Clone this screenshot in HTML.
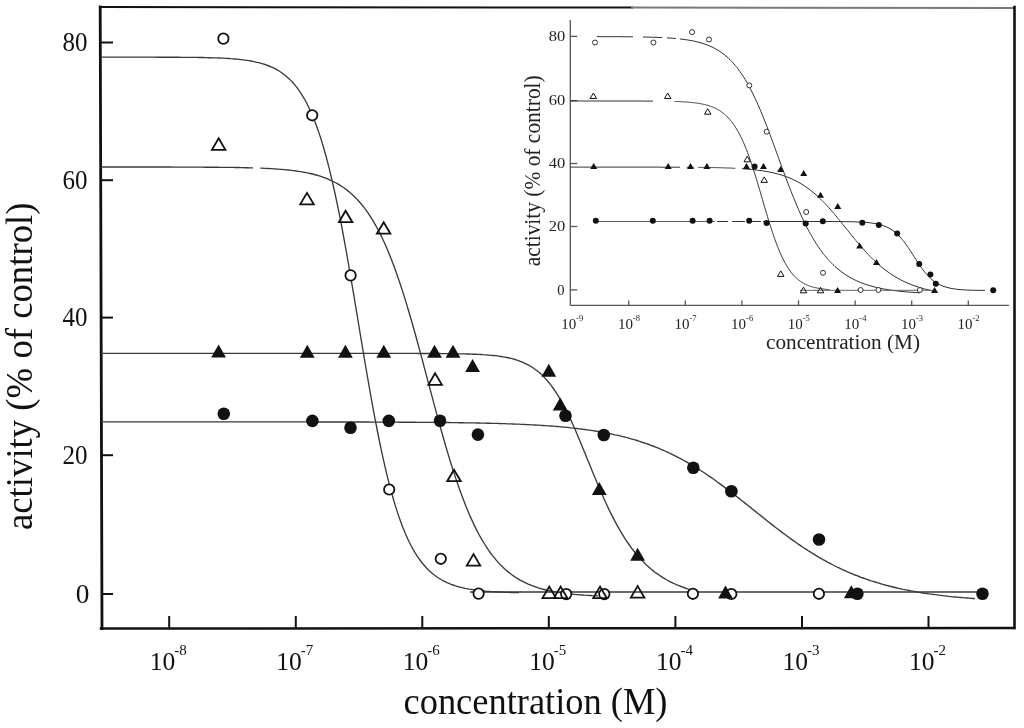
<!DOCTYPE html>
<html><head><meta charset="utf-8"><title>activity vs concentration</title>
<style>html,body{margin:0;padding:0;background:#fff;}body{width:1024px;height:728px;overflow:hidden;}svg{display:block;}</style>
</head><body>
<svg width="1024" height="728" viewBox="0 0 1024 728">
<g fill="none" stroke="#111" stroke-linecap="square">
<line x1="100.7" y1="7" x2="632" y2="7.5" stroke-width="2"/>
<line x1="632" y1="7.5" x2="1014" y2="8" stroke-width="2" stroke="#7a7a7a"/>
<line x1="100.2" y1="7" x2="102" y2="628.5" stroke-width="2.8"/>
<line x1="101" y1="628.6" x2="1014" y2="628" stroke-width="2.5"/>
<line x1="1014.5" y1="7" x2="1014.5" y2="628" stroke-width="2.6"/>
</g>
<g stroke="#111" stroke-width="2">
<line x1="101" y1="42.5" x2="113" y2="42.5"/>
<line x1="101" y1="180.2" x2="113" y2="180.2"/>
<line x1="101" y1="317.6" x2="113" y2="317.6"/>
<line x1="101" y1="455.2" x2="113" y2="455.2"/>
<line x1="101" y1="594" x2="113" y2="594"/>
<line x1="169.2" y1="628" x2="169.2" y2="616"/>
<line x1="295.8" y1="628" x2="295.8" y2="616"/>
<line x1="422.3" y1="628" x2="422.3" y2="616"/>
<line x1="548.8" y1="628" x2="548.8" y2="616"/>
<line x1="675.4" y1="628" x2="675.4" y2="616"/>
<line x1="802.0" y1="628" x2="802.0" y2="616"/>
<line x1="928.5" y1="628" x2="928.5" y2="616"/>
</g>
<g font-family="Liberation Serif, Times New Roman, serif" fill="#111">
<text x="87.6" y="51.0" font-size="27.3" text-anchor="end" textLength="25" lengthAdjust="spacingAndGlyphs">80</text>
<text x="87.6" y="188.7" font-size="27.3" text-anchor="end" textLength="25" lengthAdjust="spacingAndGlyphs">60</text>
<text x="87.6" y="326.1" font-size="27.3" text-anchor="end" textLength="25" lengthAdjust="spacingAndGlyphs">40</text>
<text x="87.6" y="463.7" font-size="27.3" text-anchor="end" textLength="25" lengthAdjust="spacingAndGlyphs">20</text>
<text x="89.3" y="602.5" font-size="27.3" text-anchor="end">0</text>
<text x="149.7" y="669.7" font-size="25.5">10<tspan font-size="15" dy="-15" dx="-1">-8</tspan></text>
<text x="276.2" y="669.7" font-size="25.5">10<tspan font-size="15" dy="-15" dx="-1">-7</tspan></text>
<text x="402.8" y="669.7" font-size="25.5">10<tspan font-size="15" dy="-15" dx="-1">-6</tspan></text>
<text x="529.3" y="669.7" font-size="25.5">10<tspan font-size="15" dy="-15" dx="-1">-5</tspan></text>
<text x="655.9" y="669.7" font-size="25.5">10<tspan font-size="15" dy="-15" dx="-1">-4</tspan></text>
<text x="782.5" y="669.7" font-size="25.5">10<tspan font-size="15" dy="-15" dx="-1">-3</tspan></text>
<text x="909.0" y="669.7" font-size="25.5">10<tspan font-size="15" dy="-15" dx="-1">-2</tspan></text>
<text x="403.5" y="714" font-size="37.5" textLength="264" lengthAdjust="spacingAndGlyphs">concentration (M)</text>
<text transform="translate(32,530) rotate(-90)" font-size="38" textLength="327.5" lengthAdjust="spacingAndGlyphs">activity (% of control)</text>
</g>
<g fill="none" stroke="#3a3a3a" stroke-width="1.35">
<path d="M101.0,57.1 L103.0,57.1 L105.0,57.1 L107.0,57.1 L109.0,57.1 L111.0,57.1 L113.0,57.1 L115.0,57.1 L117.0,57.1 L119.0,57.1 L121.0,57.1 L123.0,57.1 L125.0,57.1 L127.0,57.1 L129.0,57.1 L131.0,57.1 L133.0,57.1 L135.0,57.1 L137.0,57.1 L139.0,57.1 L141.0,57.1 L143.0,57.1 L145.0,57.1 L147.0,57.1 L149.0,57.1 L151.0,57.1 L153.0,57.1 L155.0,57.1 L157.0,57.2 L159.0,57.2 L161.0,57.2 L163.0,57.2 L165.0,57.2 L167.0,57.2 L169.0,57.2 L171.0,57.2 L173.0,57.2 L175.0,57.2 L177.0,57.2 L179.0,57.2 L181.0,57.3 L183.0,57.3 L185.0,57.3 L187.0,57.3 L189.0,57.3 L191.0,57.4 L193.0,57.4 L195.0,57.4 L197.0,57.4 L199.0,57.5 L201.0,57.5 L203.0,57.5 L205.0,57.6 L207.0,57.6 L209.0,57.7 L211.0,57.7 L213.0,57.8 L215.0,57.9 L217.0,57.9 L219.0,58.0 L221.0,58.1 L223.0,58.2 L225.0,58.3 L227.0,58.4 L229.0,58.5 L231.0,58.7 L233.0,58.8 L235.0,59.0 L237.0,59.2 L239.0,59.4 L241.0,59.6 L243.0,59.8 L245.0,60.1 L247.0,60.4 L249.0,60.7 L251.0,61.0 L253.0,61.4 L255.0,61.8 L257.0,62.3 L259.0,62.7 L261.0,63.3 L263.0,63.9 L265.0,64.5 L267.0,65.2 L269.0,66.0 L271.0,66.8 L273.0,67.7 L275.0,68.7 L277.0,69.8 L279.0,71.0 L281.0,72.3 L283.0,73.7 L285.0,75.2 L287.0,76.9 L289.0,78.7 L291.0,80.6 L293.0,82.8 L295.0,85.1 L297.0,87.6 L299.0,90.4 L301.0,93.3 L303.0,96.6 L305.0,100.0 L307.0,103.8 L309.0,107.8 L311.0,112.1 L313.0,116.8 L315.0,121.8 L317.0,127.2 L319.0,132.9 L321.0,139.1 L323.0,145.6 L325.0,152.5 L327.0,159.9 L329.0,167.6 L331.0,175.8 L333.0,184.4 L335.0,193.5 L337.0,202.9 L339.0,212.7 L341.0,222.9 L343.0,233.5 L345.0,244.4 L347.0,255.5 L349.0,267.0 L351.0,278.6 L353.0,290.4 L355.0,302.4 L357.0,314.4 L359.0,326.5 L361.0,338.6 L363.0,350.6 L365.0,362.5 L367.0,374.2 L369.0,385.7 L371.0,397.0 L373.0,408.0 L375.0,418.7 L377.0,429.0 L379.0,439.0 L381.0,448.6 L383.0,457.9 L385.0,466.7 L387.0,475.1 L389.0,483.1 L391.0,490.6 L393.0,497.8 L395.0,504.6 L397.0,510.9 L399.0,516.9 L401.0,522.5 L403.0,527.8 L405.0,532.7 L407.0,537.2 L409.0,541.5 L411.0,545.5 L413.0,549.2 L415.0,552.6 L417.0,555.8 L419.0,558.7 L421.0,561.5 L423.0,564.0 L425.0,566.3 L427.0,568.5 L429.0,570.5 L431.0,572.3 L433.0,574.0 L435.0,575.5 L437.0,577.0 L439.0,578.3 L441.0,579.5 L443.0,580.6 L445.0,581.6 L447.0,582.6 L449.0,583.5 L451.0,584.3 L453.0,585.0 L455.0,585.7 L457.0,586.3 L459.0,586.8 L461.0,587.4 L463.0,587.8 L465.0,588.3 L467.0,588.7 L469.0,589.1 L471.0,589.4 L473.0,589.7 L475.0,590.0 L477.0,590.2 L479.0,590.5 L481.0,590.7 L483.0,590.9 L485.0,591.1 L487.0,591.3 L489.0,591.4 L491.0,591.6 L493.0,591.7 L495.0,591.8 L497.0,591.9 L499.0,592.0 L501.0,592.1 L503.0,592.2 L505.0,592.3 L507.0,592.3 L509.0,592.4 L511.0,592.5 L513.0,592.5 L515.0,592.6 L517.0,592.6 L519.0,592.7"/>
<path d="M101.0,167.0 L103.0,167.0 L105.0,167.0 L107.0,167.0 L109.0,167.0 L111.0,167.0 L113.0,167.0 L115.0,167.0 L117.0,167.0 L119.0,167.0 L121.0,167.0 L123.0,167.0 L125.0,167.0 L127.0,167.0 L129.0,167.0 L131.0,167.0 L133.0,167.0 L135.0,167.0 L137.0,167.0 L139.0,167.0 L141.0,167.0 L143.0,167.0 L145.0,167.0 L147.0,167.0 L149.0,167.0 L151.0,167.0 L153.0,167.0 L155.0,167.0 L157.0,167.0 L159.0,167.0 L161.0,167.0 L163.0,167.0 L165.0,167.0 L167.0,167.0 L169.0,167.0 L171.0,167.0 L173.0,167.1 L175.0,167.1 L177.0,167.1 L179.0,167.1 L181.0,167.1 L183.0,167.1 L185.0,167.1 L187.0,167.1 L189.0,167.1 L191.0,167.1 L193.0,167.1 L195.0,167.1 L197.0,167.1 L199.0,167.1 L201.0,167.1 L203.0,167.1 L205.0,167.2 L207.0,167.2 L209.0,167.2 L211.0,167.2 L213.0,167.2 L215.0,167.2 L217.0,167.2 L219.0,167.3 L221.0,167.3 L223.0,167.3 L225.0,167.3 L227.0,167.3 L229.0,167.4 L231.0,167.4 L233.0,167.4 L235.0,167.5 L237.0,167.5 L239.0,167.5 L241.0,167.6 L243.0,167.6 L245.0,167.7 L247.0,167.7 L249.0,167.8 L251.0,167.8 L253.0,167.9"/>
<path d="M260.2,168.1 L262.2,168.2 L264.2,168.3 L266.2,168.4 L268.2,168.5 L270.2,168.6 L272.2,168.7 L274.2,168.8 L276.2,169.0 L278.2,169.1 L280.2,169.3 L282.2,169.4 L284.2,169.6 L286.2,169.8 L288.2,170.0 L290.2,170.2 L292.2,170.5 L294.2,170.7 L296.2,171.0 L298.2,171.3 L300.2,171.6 L302.2,171.9 L304.2,172.3 L306.2,172.7 L308.2,173.1 L310.2,173.5 L312.2,174.0 L314.2,174.5 L316.2,175.0 L318.2,175.6 L320.2,176.2 L322.2,176.9 L324.2,177.6 L326.2,178.4 L328.2,179.2 L330.2,180.1 L332.2,181.0 L334.2,182.0 L336.2,183.0 L338.2,184.2 L340.2,185.4 L342.2,186.7 L344.2,188.0 L346.2,189.5 L348.2,191.1 L350.2,192.7 L352.2,194.5 L354.2,196.4 L356.2,198.4 L358.2,200.5 L360.2,202.8 L362.2,205.2 L364.2,207.7 L366.2,210.4 L368.2,213.2 L370.2,216.3 L372.2,219.4 L374.2,222.8 L376.2,226.3 L378.2,230.0 L380.2,233.9 L382.2,238.0 L384.2,242.3 L386.2,246.8 L388.2,251.5 L390.2,256.4 L392.2,261.5 L394.2,266.8 L396.2,272.4 L398.2,278.1 L400.2,284.0 L402.2,290.1 L404.2,296.4 L406.2,302.9 L408.2,309.5 L410.2,316.3 L412.2,323.2 L414.2,330.3 L416.2,337.5 L418.2,344.8 L420.2,352.1 L422.2,359.6 L424.2,367.1 L426.2,374.6 L428.2,382.2 L430.2,389.7 L432.2,397.2 L434.2,404.7 L436.2,412.1 L438.2,419.4 L440.2,426.7 L442.2,433.8 L444.2,440.8 L446.2,447.7 L448.2,454.4 L450.2,461.0 L452.2,467.4 L454.2,473.6 L456.2,479.6 L458.2,485.5 L460.2,491.1 L462.2,496.6 L464.2,501.8 L466.2,506.9 L468.2,511.7 L470.2,516.4 L472.2,520.8 L474.2,525.1 L476.2,529.1 L478.2,533.0 L480.2,536.7 L482.2,540.2 L484.2,543.5 L486.2,546.7 L488.2,549.7 L490.2,552.5 L492.2,555.2 L494.2,557.7 L496.2,560.1 L498.2,562.4 L500.2,564.5 L502.2,566.5 L504.2,568.4 L506.2,570.2 L508.2,571.9 L510.2,573.5 L512.2,575.0 L514.2,576.4 L516.2,577.7 L518.2,578.9 L520.2,580.1 L522.2,581.2 L524.2,582.2 L526.2,583.2 L528.2,584.1 L530.2,584.9 L532.2,585.7 L534.2,586.4 L536.2,587.1 L538.2,587.8 L540.2,588.4 L542.2,589.0 L544.2,589.5 L546.2,590.0 L548.2,590.5 L550.2,590.9 L552.2,591.3 L554.2,591.7 L556.2,592.0 L558.2,592.4 L560.2,592.7 L562.2,593.0 L564.2,593.3 L566.2,593.5 L568.2,593.7 L570.2,594.0 L572.2,594.2 L574.2,594.4 L576.2,594.6 L578.2,594.7 L580.2,594.9 L582.2,595.0 L584.2,595.2 L586.2,595.3 L588.2,595.4 L590.2,595.5 L592.2,595.7 L594.2,595.8 L596.2,595.8 L598.2,595.9"/>
<path d="M101.0,353.4 L103.0,353.4 L105.0,353.4 L107.0,353.4 L109.0,353.4 L111.0,353.4 L113.0,353.4 L115.0,353.4 L117.0,353.4 L119.0,353.4 L121.0,353.4 L123.0,353.4 L125.0,353.4 L127.0,353.4 L129.0,353.4 L131.0,353.4 L133.0,353.4 L135.0,353.4 L137.0,353.4 L139.0,353.4 L141.0,353.4 L143.0,353.4 L145.0,353.4 L147.0,353.4 L149.0,353.4 L151.0,353.4 L153.0,353.4 L155.0,353.4 L157.0,353.4 L159.0,353.4 L161.0,353.4 L163.0,353.4 L165.0,353.4 L167.0,353.4 L169.0,353.4 L171.0,353.4 L173.0,353.4 L175.0,353.4 L177.0,353.4 L179.0,353.4 L181.0,353.4 L183.0,353.4 L185.0,353.4 L187.0,353.4 L189.0,353.4 L191.0,353.4 L193.0,353.4 L195.0,353.4 L197.0,353.4 L199.0,353.4 L201.0,353.4 L203.0,353.4 L205.0,353.4 L207.0,353.4 L209.0,353.4 L211.0,353.4 L213.0,353.4 L215.0,353.4 L217.0,353.4 L219.0,353.4 L221.0,353.4 L223.0,353.4 L225.0,353.4 L227.0,353.4 L229.0,353.4 L231.0,353.4 L233.0,353.4 L235.0,353.4 L237.0,353.4 L239.0,353.4 L241.0,353.4 L243.0,353.4 L245.0,353.4 L247.0,353.4 L249.0,353.4 L251.0,353.4 L253.0,353.4 L255.0,353.4 L257.0,353.4 L259.0,353.4 L261.0,353.4 L263.0,353.4 L265.0,353.4 L267.0,353.4 L269.0,353.4 L271.0,353.4 L273.0,353.4 L275.0,353.4 L277.0,353.4 L279.0,353.4 L281.0,353.4 L283.0,353.4 L285.0,353.4 L287.0,353.4 L289.0,353.4 L291.0,353.4 L293.0,353.4 L295.0,353.4 L297.0,353.4 L299.0,353.4 L301.0,353.4 L303.0,353.4 L305.0,353.4 L307.0,353.4 L309.0,353.4 L311.0,353.4 L313.0,353.4 L315.0,353.4 L317.0,353.4 L319.0,353.4 L321.0,353.4 L323.0,353.4 L325.0,353.4 L327.0,353.4 L329.0,353.4 L331.0,353.4 L333.0,353.4 L335.0,353.4 L337.0,353.4 L339.0,353.4 L341.0,353.4 L343.0,353.4 L345.0,353.4 L347.0,353.4 L349.0,353.4 L351.0,353.4 L353.0,353.4 L355.0,353.4 L357.0,353.4 L359.0,353.4 L361.0,353.4 L363.0,353.4 L365.0,353.4 L367.0,353.4 L369.0,353.4 L371.0,353.4 L373.0,353.4 L375.0,353.4 L377.0,353.4 L379.0,353.4 L381.0,353.4 L383.0,353.4 L385.0,353.4 L387.0,353.4 L389.0,353.4 L391.0,353.4 L393.0,353.4 L395.0,353.4 L397.0,353.4 L399.0,353.4 L401.0,353.4 L403.0,353.4 L405.0,353.4 L407.0,353.4 L409.0,353.4 L411.0,353.4 L413.0,353.4 L415.0,353.4 L417.0,353.4 L419.0,353.5 L421.0,353.5 L423.0,353.5 L425.0,353.5 L427.0,353.5 L429.0,353.5 L431.0,353.5 L433.0,353.5 L435.0,353.5 L437.0,353.5 L439.0,353.5 L441.0,353.6 L443.0,353.6 L445.0,353.6 L447.0,353.6 L449.0,353.6 L451.0,353.7 L453.0,353.7 L455.0,353.7 L457.0,353.7 L459.0,353.8 L461.0,353.8 L463.0,353.9 L465.0,353.9 L467.0,354.0 L469.0,354.0 L471.0,354.1 L473.0,354.2 L475.0,354.2 L477.0,354.3 L479.0,354.4 L481.0,354.5 L483.0,354.7 L485.0,354.8 L487.0,354.9 L489.0,355.1 L491.0,355.3 L493.0,355.5 L495.0,355.7 L497.0,355.9 L499.0,356.2 L501.0,356.5 L503.0,356.8 L505.0,357.1 L507.0,357.5 L509.0,358.0 L511.0,358.4 L513.0,358.9 L515.0,359.5 L517.0,360.1 L519.0,360.8 L521.0,361.6 L523.0,362.4 L525.0,363.3 L527.0,364.3 L529.0,365.3 L531.0,366.5 L533.0,367.8 L535.0,369.2 L537.0,370.7 L539.0,372.3 L541.0,374.1 L543.0,376.0 L545.0,378.1 L547.0,380.3 L549.0,382.7 L551.0,385.2 L553.0,388.0 L555.0,390.9 L557.0,393.9 L559.0,397.2 L561.0,400.7 L563.0,404.3 L565.0,408.1 L567.0,412.0 L569.0,416.1 L571.0,420.4 L573.0,424.8 L575.0,429.3 L577.0,434.0 L579.0,438.7 L581.0,443.5 L583.0,448.4 L585.0,453.3 L587.0,458.2 L589.0,463.1 L591.0,468.1 L593.0,473.0 L595.0,477.8 L597.0,482.6 L599.0,487.4 L601.0,492.0 L603.0,496.6 L605.0,501.0 L607.0,505.3 L609.0,509.6 L611.0,513.6 L613.0,517.6 L615.0,521.4 L617.0,525.1 L619.0,528.7 L621.0,532.1 L623.0,535.4 L625.0,538.6 L627.0,541.6 L629.0,544.5 L631.0,547.3 L633.0,550.0 L635.0,552.5 L637.0,554.9 L639.0,557.2 L641.0,559.4 L643.0,561.5 L645.0,563.5 L647.0,565.4 L649.0,567.2 L651.0,569.0 L653.0,570.6 L655.0,572.2 L657.0,573.6 L659.0,575.0 L661.0,576.4 L663.0,577.6 L665.0,578.8 L667.0,580.0 L669.0,581.1 L671.0,582.1 L673.0,583.1 L675.0,584.0 L677.0,584.9 L679.0,585.7 L681.0,586.5 L683.0,587.2 L685.0,588.0 L687.0,588.6 L689.0,589.3 L691.0,589.9 L693.0,590.4 L695.0,591.0 L697.0,591.5 L699.0,592.0"/>
<path d="M101.0,421.9 L103.0,421.9 L105.0,421.9 L107.0,421.9 L109.0,421.9 L111.0,421.9 L113.0,421.9 L115.0,421.9 L117.0,421.9 L119.0,421.9 L121.0,421.9 L123.0,421.9 L125.0,421.9 L127.0,421.9 L129.0,421.9 L131.0,421.9 L133.0,421.9 L135.0,421.9 L137.0,421.9 L139.0,421.9 L141.0,421.9 L143.0,421.9 L145.0,421.9 L147.0,421.9 L149.0,421.9 L151.0,421.9 L153.0,421.9 L155.0,421.9 L157.0,421.9 L159.0,421.9 L161.0,421.9 L163.0,421.9 L165.0,421.9 L167.0,421.9 L169.0,421.9 L171.0,421.9 L173.0,421.9 L175.0,421.9 L177.0,421.9 L179.0,421.9 L181.0,421.9 L183.0,421.9 L185.0,421.9 L187.0,421.9 L189.0,421.9 L191.0,421.9 L193.0,421.9 L195.0,421.9 L197.0,421.9 L199.0,421.9 L201.0,421.9 L203.0,421.9 L205.0,421.9 L207.0,421.9 L209.0,421.9 L211.0,421.9 L213.0,421.9 L215.0,421.9 L217.0,421.9 L219.0,421.9 L221.0,421.9 L223.0,421.9 L225.0,421.9 L227.0,421.9 L229.0,421.9 L231.0,421.9 L233.0,421.9 L235.0,421.9 L237.0,421.9 L239.0,421.9 L241.0,421.9 L243.0,421.9 L245.0,421.9 L247.0,421.9 L249.0,421.9 L251.0,421.9 L253.0,421.9 L255.0,421.9 L257.0,421.9 L259.0,421.9 L261.0,421.9 L263.0,421.9 L265.0,421.9 L267.0,421.9 L269.0,421.9 L271.0,421.9 L273.0,421.9 L275.0,421.9 L277.0,421.9 L279.0,421.9 L281.0,421.9 L283.0,421.9 L285.0,421.9 L287.0,421.9 L289.0,421.9 L291.0,421.9 L293.0,421.9 L295.0,421.9 L297.0,421.9 L299.0,421.9 L301.0,421.9 L303.0,421.9 L305.0,421.9 L307.0,421.9 L309.0,421.9 L311.0,421.9 L313.0,422.0 L315.0,422.0 L317.0,422.0 L319.0,422.0 L321.0,422.0 L323.0,422.0 L325.0,422.0 L327.0,422.0 L329.0,422.0 L331.0,422.0 L333.0,422.0 L335.0,422.0 L337.0,422.0 L339.0,422.0 L341.0,422.0 L343.0,422.0 L345.0,422.0 L347.0,422.0 L349.0,422.0 L351.0,422.0 L353.0,422.0 L355.0,422.0 L357.0,422.0 L359.0,422.0 L361.0,422.0 L363.0,422.0 L365.0,422.0 L367.0,422.0 L369.0,422.0 L371.0,422.1 L373.0,422.1 L375.0,422.1 L377.0,422.1 L379.0,422.1 L381.0,422.1 L383.0,422.1 L385.0,422.1 L387.0,422.1 L389.0,422.1 L391.0,422.1 L393.0,422.1 L395.0,422.1 L397.0,422.1 L399.0,422.2 L401.0,422.2 L403.0,422.2 L405.0,422.2 L407.0,422.2 L409.0,422.2 L411.0,422.2 L413.0,422.2 L415.0,422.2 L417.0,422.3 L419.0,422.3 L421.0,422.3 L423.0,422.3 L425.0,422.3 L427.0,422.3 L429.0,422.3 L431.0,422.4 L433.0,422.4 L435.0,422.4 L437.0,422.4 L439.0,422.4 L441.0,422.5 L443.0,422.5 L445.0,422.5 L447.0,422.5 L449.0,422.5 L451.0,422.6 L453.0,422.6 L455.0,422.6 L457.0,422.6 L459.0,422.7 L461.0,422.7 L463.0,422.7 L465.0,422.8 L467.0,422.8 L469.0,422.8 L471.0,422.9 L473.0,422.9 L475.0,422.9 L477.0,423.0 L479.0,423.0 L481.0,423.1 L483.0,423.1 L485.0,423.1 L487.0,423.2 L489.0,423.2 L491.0,423.3 L493.0,423.3 L495.0,423.4 L497.0,423.4 L499.0,423.5 L501.0,423.6 L503.0,423.6 L505.0,423.7 L507.0,423.8 L509.0,423.8 L511.0,423.9 L513.0,424.0 L515.0,424.1 L517.0,424.1 L519.0,424.2 L521.0,424.3 L523.0,424.4 L525.0,424.5 L527.0,424.6 L529.0,424.7 L531.0,424.8 L533.0,424.9 L535.0,425.0 L537.0,425.1 L539.0,425.2 L541.0,425.4 L543.0,425.5 L545.0,425.6 L547.0,425.8 L549.0,425.9 L551.0,426.0 L553.0,426.2 L555.0,426.4 L557.0,426.5 L559.0,426.7 L561.0,426.9 L563.0,427.1 L565.0,427.2 L567.0,427.4 L569.0,427.6 L571.0,427.8 L573.0,428.1 L575.0,428.3 L577.0,428.5 L579.0,428.8 L581.0,429.0 L583.0,429.3 L585.0,429.5 L587.0,429.8 L589.0,430.1 L591.0,430.4 L593.0,430.7 L595.0,431.0 L597.0,431.3 L599.0,431.7 L601.0,432.0 L603.0,432.4 L605.0,432.7 L607.0,433.1 L609.0,433.5 L611.0,433.9 L613.0,434.3 L615.0,434.8 L617.0,435.2 L619.0,435.7 L621.0,436.2 L623.0,436.6 L625.0,437.1 L627.0,437.7 L629.0,438.2 L631.0,438.8 L633.0,439.3 L635.0,439.9 L637.0,440.5 L639.0,441.2 L641.0,441.8 L643.0,442.5 L645.0,443.1 L647.0,443.8 L649.0,444.5 L651.0,445.3 L653.0,446.0 L655.0,446.8 L657.0,447.6 L659.0,448.4 L661.0,449.3 L663.0,450.1 L665.0,451.0 L667.0,451.9 L669.0,452.9 L671.0,453.8 L673.0,454.8 L675.0,455.8 L677.0,456.8 L679.0,457.8 L681.0,458.9 L683.0,460.0 L685.0,461.1 L687.0,462.2 L689.0,463.4 L691.0,464.5 L693.0,465.7 L695.0,466.9 L697.0,468.2 L699.0,469.4 L701.0,470.7 L703.0,472.0 L705.0,473.3 L707.0,474.7 L709.0,476.1 L711.0,477.4 L713.0,478.8 L715.0,480.2 L717.0,481.7 L719.0,483.1 L721.0,484.6 L723.0,486.1 L725.0,487.6 L727.0,489.1 L729.0,490.6 L731.0,492.1 L733.0,493.7 L735.0,495.2 L737.0,496.8 L739.0,498.4 L741.0,500.0 L743.0,501.5 L745.0,503.1 L747.0,504.7 L749.0,506.3 L751.0,507.9 L753.0,509.5 L755.0,511.1 L757.0,512.7 L759.0,514.3 L761.0,515.9 L763.0,517.5 L765.0,519.1 L767.0,520.7 L769.0,522.3 L771.0,523.9 L773.0,525.4 L775.0,527.0 L777.0,528.5 L779.0,530.0 L781.0,531.6 L783.0,533.1 L785.0,534.5 L787.0,536.0 L789.0,537.5 L791.0,538.9 L793.0,540.4 L795.0,541.8 L797.0,543.2 L799.0,544.6 L801.0,545.9 L803.0,547.3 L805.0,548.6 L807.0,549.9 L809.0,551.2 L811.0,552.4 L813.0,553.7 L815.0,554.9 L817.0,556.1 L819.0,557.3 L821.0,558.4 L823.0,559.6 L825.0,560.7 L827.0,561.8 L829.0,562.9 L831.0,563.9 L833.0,565.0 L835.0,566.0 L837.0,567.0 L839.0,567.9 L841.0,568.9 L843.0,569.8 L845.0,570.7 L847.0,571.6 L849.0,572.5 L851.0,573.3 L853.0,574.1 L855.0,575.0 L857.0,575.7 L859.0,576.5 L861.0,577.3 L863.0,578.0 L865.0,578.7 L867.0,579.4 L869.0,580.1 L871.0,580.8 L873.0,581.4 L875.0,582.0 L877.0,582.6 L879.0,583.2 L881.0,583.8 L883.0,584.4 L885.0,584.9 L887.0,585.5 L889.0,586.0 L891.0,586.5 L893.0,587.0 L895.0,587.5 L897.0,588.0 L899.0,588.4 L901.0,588.8 L903.0,589.3 L905.0,589.7 L907.0,590.1 L909.0,590.5 L911.0,590.9 L913.0,591.2 L915.0,591.6 L917.0,592.0 L919.0,592.3 L921.0,592.6 L923.0,593.0 L925.0,593.3 L927.0,593.6 L929.0,593.9 L931.0,594.1 L933.0,594.4 L935.0,594.7 L937.0,594.9 L939.0,595.2 L941.0,595.4 L943.0,595.7 L945.0,595.9 L947.0,596.1 L949.0,596.4 L951.0,596.6 L953.0,596.8 L955.0,597.0 L957.0,597.2 L959.0,597.4 L961.0,597.5 L963.0,597.7 L965.0,597.9 L967.0,598.0 L969.0,598.2 L971.0,598.4 L973.0,598.5 L975.0,598.7"/>
<line x1="470" y1="592" x2="982" y2="592"/>
</g>
<g>
<circle cx="223.4" cy="38.6" r="5.2" fill="#fff" stroke="#111" stroke-width="1.8"/>
<circle cx="312.2" cy="115.3" r="5.2" fill="#fff" stroke="#111" stroke-width="1.8"/>
<circle cx="350.6" cy="275.4" r="5.2" fill="#fff" stroke="#111" stroke-width="1.8"/>
<circle cx="389.2" cy="489.5" r="5.2" fill="#fff" stroke="#111" stroke-width="1.8"/>
<circle cx="440.8" cy="558.8" r="5.2" fill="#fff" stroke="#111" stroke-width="1.8"/>
<circle cx="478.6" cy="593.6" r="5.2" fill="#fff" stroke="#111" stroke-width="1.8"/>
<circle cx="566.2" cy="594.1" r="5.2" fill="#fff" stroke="#111" stroke-width="1.8"/>
<circle cx="604.3" cy="594.1" r="5.2" fill="#fff" stroke="#111" stroke-width="1.8"/>
<circle cx="692.9" cy="593.8" r="5.2" fill="#fff" stroke="#111" stroke-width="1.8"/>
<circle cx="731.3" cy="594" r="5.2" fill="#fff" stroke="#111" stroke-width="1.8"/>
<circle cx="818.9" cy="593.8" r="5.2" fill="#fff" stroke="#111" stroke-width="1.8"/>
<polygon points="218.7,138.2 211.9,149.8 225.4,149.8" fill="none" stroke="#111" stroke-width="1.8" stroke-linejoin="miter"/>
<polygon points="307.0,192.9 300.2,204.4 313.8,204.4" fill="none" stroke="#111" stroke-width="1.8" stroke-linejoin="miter"/>
<polygon points="345.6,210.8 338.9,222.2 352.4,222.2" fill="none" stroke="#111" stroke-width="1.8" stroke-linejoin="miter"/>
<polygon points="383.7,222.2 376.9,233.7 390.4,233.7" fill="none" stroke="#111" stroke-width="1.8" stroke-linejoin="miter"/>
<polygon points="435.1,373.2 428.4,384.8 441.9,384.8" fill="none" stroke="#111" stroke-width="1.8" stroke-linejoin="miter"/>
<polygon points="454.0,469.8 447.2,481.2 460.8,481.2" fill="none" stroke="#111" stroke-width="1.8" stroke-linejoin="miter"/>
<polygon points="473.5,554.1 466.8,565.6 480.2,565.6" fill="none" stroke="#111" stroke-width="1.8" stroke-linejoin="miter"/>
<polygon points="549.2,586.6 542.5,598.1 556.0,598.1" fill="none" stroke="#111" stroke-width="1.8" stroke-linejoin="miter"/>
<polygon points="560.6,586.6 553.9,598.1 567.4,598.1" fill="none" stroke="#111" stroke-width="1.8" stroke-linejoin="miter"/>
<polygon points="600.0,586.6 593.2,598.1 606.8,598.1" fill="none" stroke="#111" stroke-width="1.8" stroke-linejoin="miter"/>
<polygon points="637.6,586.1 630.9,597.6 644.4,597.6" fill="none" stroke="#111" stroke-width="1.8" stroke-linejoin="miter"/>
<polygon points="218.6,344.5 211.2,357.5 226.0,357.5" fill="#111"/>
<polygon points="307.3,344.8 299.9,357.8 314.7,357.8" fill="#111"/>
<polygon points="345.4,344.8 338.0,357.8 352.8,357.8" fill="#111"/>
<polygon points="383.8,344.8 376.4,357.8 391.2,357.8" fill="#111"/>
<polygon points="434.5,344.8 427.1,357.8 441.9,357.8" fill="#111"/>
<polygon points="453.0,344.8 445.6,357.8 460.4,357.8" fill="#111"/>
<polygon points="472.6,359.1 465.2,372.1 480.0,372.1" fill="#111"/>
<polygon points="548.8,363.7 541.4,376.7 556.2,376.7" fill="#111"/>
<polygon points="560.2,397.4 552.8,410.4 567.6,410.4" fill="#111"/>
<polygon points="599.3,482.0 591.9,495.0 606.7,495.0" fill="#111"/>
<polygon points="637.6,547.7 630.2,560.7 645.0,560.7" fill="#111"/>
<polygon points="725.5,585.4 718.1,598.4 732.9,598.4" fill="#111"/>
<polygon points="851.3,585.3 843.9,598.3 858.7,598.3" fill="#111"/>
<circle cx="223.8" cy="413.8" r="6.3" fill="#111"/>
<circle cx="312.4" cy="420.9" r="6.3" fill="#111"/>
<circle cx="350.5" cy="427.8" r="6.3" fill="#111"/>
<circle cx="388.8" cy="420.9" r="6.3" fill="#111"/>
<circle cx="440" cy="420.8" r="6.3" fill="#111"/>
<circle cx="477.9" cy="434.6" r="6.3" fill="#111"/>
<circle cx="565.5" cy="415.8" r="6.3" fill="#111"/>
<circle cx="603.8" cy="435" r="6.3" fill="#111"/>
<circle cx="693.3" cy="467.8" r="6.3" fill="#111"/>
<circle cx="731.4" cy="491.2" r="6.3" fill="#111"/>
<circle cx="819" cy="539.5" r="6.3" fill="#111"/>
<circle cx="857.4" cy="593.8" r="6.3" fill="#111"/>
<circle cx="982.5" cy="593.8" r="6.3" fill="#111"/>
</g>
<g stroke="#555" stroke-width="1.3" fill="none">
<line x1="570.3" y1="20" x2="570.3" y2="305.4"/>
<line x1="570.3" y1="305.4" x2="1009" y2="305.4"/>
<line x1="570.3" y1="36.4" x2="577.3" y2="36.4"/>
<line x1="570.3" y1="100.6" x2="577.3" y2="100.6"/>
<line x1="570.3" y1="163.5" x2="577.3" y2="163.5"/>
<line x1="570.3" y1="226.5" x2="577.3" y2="226.5"/>
<line x1="570.3" y1="289.9" x2="577.3" y2="289.9"/>
<line x1="628.7" y1="305.4" x2="628.7" y2="300.4"/>
<line x1="685.3" y1="305.4" x2="685.3" y2="300.4"/>
<line x1="741.9" y1="305.4" x2="741.9" y2="300.4"/>
<line x1="798.5" y1="305.4" x2="798.5" y2="300.4"/>
<line x1="855.1" y1="305.4" x2="855.1" y2="300.4"/>
<line x1="911.7" y1="305.4" x2="911.7" y2="300.4"/>
<line x1="968.3" y1="305.4" x2="968.3" y2="300.4"/>
</g>
<g font-family="Liberation Serif, Times New Roman, serif" fill="#222">
<text x="565.2" y="41.1" font-size="14.5" text-anchor="end" textLength="16.5" lengthAdjust="spacingAndGlyphs">80</text>
<text x="565.2" y="105.3" font-size="14.5" text-anchor="end" textLength="16.5" lengthAdjust="spacingAndGlyphs">60</text>
<text x="565.2" y="168.2" font-size="14.5" text-anchor="end" textLength="16.5" lengthAdjust="spacingAndGlyphs">40</text>
<text x="565.2" y="231.2" font-size="14.5" text-anchor="end" textLength="16.5" lengthAdjust="spacingAndGlyphs">20</text>
<text x="564.5" y="294.6" font-size="14.5" text-anchor="end">0</text>
<text x="561.2" y="329" font-size="15">10<tspan font-size="8.5" dy="-8">-9</tspan></text>
<text x="617.9" y="329" font-size="15">10<tspan font-size="8.5" dy="-8">-8</tspan></text>
<text x="674.5" y="329" font-size="15">10<tspan font-size="8.5" dy="-8">-7</tspan></text>
<text x="731.1" y="329" font-size="15">10<tspan font-size="8.5" dy="-8">-6</tspan></text>
<text x="787.7" y="329" font-size="15">10<tspan font-size="8.5" dy="-8">-5</tspan></text>
<text x="844.3" y="329" font-size="15">10<tspan font-size="8.5" dy="-8">-4</tspan></text>
<text x="900.9" y="329" font-size="15">10<tspan font-size="8.5" dy="-8">-3</tspan></text>
<text x="957.5" y="329" font-size="15">10<tspan font-size="8.5" dy="-8">-2</tspan></text>
<text x="766" y="348.8" font-size="20.5" textLength="154" lengthAdjust="spacingAndGlyphs">concentration (M)</text>
<text transform="translate(539.8,266.3) rotate(-90)" font-size="23" textLength="191" lengthAdjust="spacingAndGlyphs">activity (% of control)</text>
</g>
<g fill="none" stroke="#333" stroke-width="1">
<path d="M597.0,36.6 L598.0,36.6 L599.0,36.6 L600.0,36.7 L601.0,36.7 L602.0,36.7 L603.0,36.7 L604.0,36.7 L605.0,36.7 L606.0,36.7 L607.0,36.7 L608.0,36.7 L609.0,36.7 L610.0,36.7 L611.0,36.7 L612.0,36.7 L613.0,36.7 L614.0,36.7 L615.0,36.7 L616.0,36.7 L617.0,36.7 L618.0,36.7 L619.0,36.7 L620.0,36.7 L621.0,36.7 L622.0,36.7 L623.0,36.8 L624.0,36.8 L625.0,36.8 L626.0,36.8 L627.0,36.8 L628.0,36.8 L629.0,36.8 L630.0,36.8 L631.0,36.8 L632.0,36.8 L633.0,36.8"/>
<path d="M643.0,37.0 L644.0,37.0 L645.0,37.0 L646.0,37.1 L647.0,37.1 L648.0,37.1 L649.0,37.1 L650.0,37.2 L651.0,37.2 L652.0,37.2 L653.0,37.2 L654.0,37.3 L655.0,37.3 L656.0,37.3 L657.0,37.4 L658.0,37.4 L659.0,37.5 L660.0,37.5 L661.0,37.5 L662.0,37.6"/>
<path d="M667.0,37.9 L668.0,37.9 L669.0,38.0 L670.0,38.1 L671.0,38.1 L672.0,38.2 L673.0,38.3 L674.0,38.4 L675.0,38.4 L676.0,38.5"/>
<path d="M680.0,38.9 L681.0,39.1 L682.0,39.2 L683.0,39.3 L684.0,39.4 L685.0,39.6 L686.0,39.7 L687.0,39.9 L688.0,40.0 L689.0,40.2 L690.0,40.4 L691.0,40.5 L692.0,40.7 L693.0,40.9 L694.0,41.1 L695.0,41.3 L696.0,41.6 L697.0,41.8 L698.0,42.1 L699.0,42.3 L700.0,42.6 L701.0,42.9 L702.0,43.2 L703.0,43.5 L704.0,43.8 L705.0,44.2 L706.0,44.5 L707.0,44.9 L708.0,45.3 L709.0,45.7 L710.0,46.1 L711.0,46.6 L712.0,47.0 L713.0,47.5 L714.0,48.0 L715.0,48.5 L716.0,49.1 L717.0,49.7 L718.0,50.3 L719.0,50.9 L720.0,51.5 L721.0,52.2 L722.0,52.9 L723.0,53.7 L724.0,54.4 L725.0,55.2 L726.0,56.1 L727.0,56.9 L728.0,57.8 L729.0,58.8 L730.0,59.7 L731.0,60.7 L732.0,61.8 L733.0,62.9 L734.0,64.0 L735.0,65.2 L736.0,66.4 L737.0,67.6 L738.0,68.9 L739.0,70.3 L740.0,71.6 L741.0,73.1 L742.0,74.6 L743.0,76.1 L744.0,77.6 L745.0,79.3 L746.0,80.9 L747.0,82.7 L748.0,84.4 L749.0,86.2 L750.0,88.1 L751.0,90.0 L752.0,92.0 L753.0,94.0 L754.0,96.1 L755.0,98.2 L756.0,100.3 L757.0,102.5 L758.0,104.8 L759.0,107.0 L760.0,109.4 L761.0,111.7 L762.0,114.2 L763.0,116.6 L764.0,119.1 L765.0,121.6 L766.0,124.2 L767.0,126.7 L768.0,129.3 L769.0,132.0 L770.0,134.6 L771.0,137.3 L772.0,140.0 L773.0,142.7 L774.0,145.4 L775.0,148.2 L776.0,150.9 L777.0,153.7 L778.0,156.4 L779.0,159.2 L780.0,161.9 L781.0,164.7 L782.0,167.4 L783.0,170.1 L784.0,172.8 L785.0,175.5 L786.0,178.2 L787.0,180.9 L788.0,183.5 L789.0,186.1 L790.0,188.7 L791.0,191.3 L792.0,193.8 L793.0,196.3 L794.0,198.8 L795.0,201.2 L796.0,203.6 L797.0,206.0 L798.0,208.3 L799.0,210.6 L800.0,212.9 L801.0,215.1 L802.0,217.3 L803.0,219.4 L804.0,221.5 L805.0,223.5 L806.0,225.5 L807.0,227.5 L808.0,229.4 L809.0,231.3 L810.0,233.1 L811.0,234.9 L812.0,236.7 L813.0,238.4 L814.0,240.1 L815.0,241.7 L816.0,243.3 L817.0,244.8 L818.0,246.3 L819.0,247.8 L820.0,249.2 L821.0,250.6 L822.0,252.0 L823.0,253.3 L824.0,254.6 L825.0,255.8 L826.0,257.0 L827.0,258.2 L828.0,259.4 L829.0,260.5 L830.0,261.5 L831.0,262.6 L832.0,263.6 L833.0,264.6 L834.0,265.5 L835.0,266.5 L836.0,267.4 L837.0,268.2 L838.0,269.1 L839.0,269.9 L840.0,270.7 L841.0,271.5 L842.0,272.2 L843.0,272.9 L844.0,273.6 L845.0,274.3 L846.0,275.0 L847.0,275.6 L848.0,276.2 L849.0,276.8 L850.0,277.4 L851.0,278.0 L852.0,278.5 L853.0,279.0 L854.0,279.5 L855.0,280.0 L856.0,280.5 L857.0,281.0 L858.0,281.4 L859.0,281.8 L860.0,282.3 L861.0,282.7 L862.0,283.0 L863.0,283.4 L864.0,283.8 L865.0,284.1 L866.0,284.5 L867.0,284.8 L868.0,285.1 L869.0,285.4 L870.0,285.7 L871.0,286.0 L872.0,286.3 L873.0,286.6 L874.0,286.8 L875.0,287.1 L876.0,287.3 L877.0,287.6 L878.0,287.8 L879.0,288.0 L880.0,288.2 L881.0,288.4 L882.0,288.6 L883.0,288.8 L884.0,289.0 L885.0,289.2 L886.0,289.4 L887.0,289.5 L888.0,289.7 L889.0,289.9 L890.0,290.0 L891.0,290.1 L892.0,290.3 L893.0,290.4 L894.0,290.6 L895.0,290.7 L896.0,290.8 L897.0,290.9 L898.0,291.0 L899.0,291.2 L900.0,291.3 L901.0,291.4 L902.0,291.5 L903.0,291.6 L904.0,291.7 L905.0,291.8 L906.0,291.8 L907.0,291.9 L908.0,292.0 L909.0,292.1 L910.0,292.2 L911.0,292.2 L912.0,292.3 L913.0,292.4 L914.0,292.4 L915.0,292.5 L916.0,292.6 L917.0,292.6 L918.0,292.7 L919.0,292.8 L920.0,292.8"/>
<path d="M570.0,101.0 L571.0,101.0 L572.0,101.0 L573.0,101.0 L574.0,101.0 L575.0,101.0 L576.0,101.0 L577.0,101.0 L578.0,101.0 L579.0,101.0 L580.0,101.0 L581.0,101.0 L582.0,101.0 L583.0,101.0 L584.0,101.0 L585.0,101.0 L586.0,101.0 L587.0,101.0 L588.0,101.0 L589.0,101.0 L590.0,101.0 L591.0,101.0 L592.0,101.0 L593.0,101.0 L594.0,101.0 L595.0,101.0 L596.0,101.0 L597.0,101.0 L598.0,101.0 L599.0,101.0 L600.0,101.0 L601.0,101.0 L602.0,101.0 L603.0,101.0 L604.0,101.0 L605.0,101.0 L606.0,101.0 L607.0,101.0 L608.0,101.0 L609.0,101.0 L610.0,101.0 L611.0,101.0 L612.0,101.0 L613.0,101.0 L614.0,101.0 L615.0,101.0 L616.0,101.0 L617.0,101.0 L618.0,101.0 L619.0,101.0 L620.0,101.0 L621.0,101.0 L622.0,101.0 L623.0,101.0 L624.0,101.0 L625.0,101.0 L626.0,101.0 L627.0,101.0 L628.0,101.0 L629.0,101.0 L630.0,101.0 L631.0,101.0 L632.0,101.0 L633.0,101.0 L634.0,101.0 L635.0,101.0 L636.0,101.0 L637.0,101.0 L638.0,101.0 L639.0,101.0 L640.0,101.0 L641.0,101.0 L642.0,101.0 L643.0,101.1 L644.0,101.1 L645.0,101.1 L646.0,101.1 L647.0,101.1 L648.0,101.1 L649.0,101.1 L650.0,101.1 L651.0,101.1 L652.0,101.1 L653.0,101.1"/>
<path d="M674.5,101.5 L675.5,101.5 L676.5,101.5 L677.5,101.6 L678.5,101.6 L679.5,101.6 L680.5,101.7 L681.5,101.7 L682.5,101.8 L683.5,101.8 L684.5,101.9 L685.5,102.0 L686.5,102.0 L687.5,102.1 L688.5,102.2 L689.5,102.3 L690.5,102.4 L691.5,102.5 L692.5,102.6 L693.5,102.7 L694.5,102.8 L695.5,102.9 L696.5,103.0 L697.5,103.2 L698.5,103.3 L699.5,103.5 L700.5,103.7 L701.5,103.9 L702.5,104.1 L703.5,104.3 L704.5,104.5 L705.5,104.8 L706.5,105.0 L707.5,105.3 L708.5,105.6 L709.5,105.9 L710.5,106.3 L711.5,106.6 L712.5,107.0 L713.5,107.4 L714.5,107.9 L715.5,108.3 L716.5,108.9 L717.5,109.4 L718.5,110.0 L719.5,110.6 L720.5,111.2 L721.5,111.9 L722.5,112.6 L723.5,113.4 L724.5,114.2 L725.5,115.1 L726.5,116.0 L727.5,117.0 L728.5,118.1 L729.5,119.2 L730.5,120.4 L731.5,121.6 L732.5,122.9 L733.5,124.3 L734.5,125.7 L735.5,127.3 L736.5,128.9 L737.5,130.6 L738.5,132.4 L739.5,134.2 L740.5,136.2 L741.5,138.2 L742.5,140.4 L743.5,142.6 L744.5,144.9 L745.5,147.3 L746.5,149.8 L747.5,152.4 L748.5,155.1 L749.5,157.9 L750.5,160.7 L751.5,163.7 L752.5,166.7 L753.5,169.8 L754.5,172.9 L755.5,176.1 L756.5,179.4 L757.5,182.7 L758.5,186.1 L759.5,189.4 L760.5,192.8 L761.5,196.3 L762.5,199.7 L763.5,203.1 L764.5,206.5 L765.5,209.9 L766.5,213.3 L767.5,216.6 L768.5,219.9 L769.5,223.1 L770.5,226.3 L771.5,229.4 L772.5,232.5 L773.5,235.4 L774.5,238.3 L775.5,241.1 L776.5,243.8 L777.5,246.4 L778.5,248.9 L779.5,251.3 L780.5,253.6 L781.5,255.8 L782.5,257.9 L783.5,260.0 L784.5,261.9 L785.5,263.7 L786.5,265.4 L787.5,267.1 L788.5,268.6 L789.5,270.1 L790.5,271.5 L791.5,272.8 L792.5,274.0 L793.5,275.1 L794.5,276.2 L795.5,277.2 L796.5,278.2 L797.5,279.0 L798.5,279.9 L799.5,280.6 L800.5,281.4 L801.5,282.0 L802.5,282.7 L803.5,283.2 L804.5,283.8 L805.5,284.3 L806.5,284.7 L807.5,285.2 L808.5,285.6 L809.5,286.0 L810.5,286.3 L811.5,286.6 L812.5,286.9 L813.5,287.2 L814.5,287.5 L815.5,287.7 L816.5,287.9 L817.5,288.1 L818.5,288.3 L819.5,288.5 L820.5,288.6 L821.5,288.8 L822.5,288.9 L823.5,289.0 L824.5,289.2 L825.5,289.3 L826.5,289.4 L827.5,289.5 L828.5,289.5 L829.5,289.6"/>
<path d="M570.0,167.1 L571.0,167.1 L572.0,167.1 L573.0,167.1 L574.0,167.1 L575.0,167.1 L576.0,167.1 L577.0,167.1 L578.0,167.1 L579.0,167.1 L580.0,167.1 L581.0,167.1 L582.0,167.1 L583.0,167.1 L584.0,167.1 L585.0,167.1 L586.0,167.1 L587.0,167.1 L588.0,167.1 L589.0,167.1 L590.0,167.1 L591.0,167.1 L592.0,167.1 L593.0,167.1 L594.0,167.1 L595.0,167.1 L596.0,167.1 L597.0,167.1 L598.0,167.1 L599.0,167.1 L600.0,167.1 L601.0,167.1 L602.0,167.1 L603.0,167.1 L604.0,167.1 L605.0,167.1 L606.0,167.1 L607.0,167.1 L608.0,167.1 L609.0,167.1 L610.0,167.1 L611.0,167.1 L612.0,167.1 L613.0,167.1 L614.0,167.1 L615.0,167.1 L616.0,167.1 L617.0,167.1 L618.0,167.1 L619.0,167.1 L620.0,167.1 L621.0,167.1 L622.0,167.1 L623.0,167.1 L624.0,167.1 L625.0,167.1 L626.0,167.1 L627.0,167.1 L628.0,167.1 L629.0,167.1 L630.0,167.1 L631.0,167.1 L632.0,167.1 L633.0,167.1 L634.0,167.1 L635.0,167.1 L636.0,167.1 L637.0,167.1 L638.0,167.1 L639.0,167.1 L640.0,167.1 L641.0,167.1 L642.0,167.1 L643.0,167.1 L644.0,167.1 L645.0,167.1 L646.0,167.1 L647.0,167.1 L648.0,167.1 L649.0,167.1 L650.0,167.1 L651.0,167.1 L652.0,167.1 L653.0,167.1 L654.0,167.1 L655.0,167.1 L656.0,167.1 L657.0,167.1 L658.0,167.1 L659.0,167.1 L660.0,167.2 L661.0,167.2 L662.0,167.2 L663.0,167.2 L664.0,167.2 L665.0,167.2 L666.0,167.2 L667.0,167.2 L668.0,167.2 L669.0,167.2 L670.0,167.2 L671.0,167.2 L672.0,167.2 L673.0,167.2 L674.0,167.2 L675.0,167.2 L676.0,167.2 L677.0,167.2 L678.0,167.2 L679.0,167.2 L680.0,167.2"/>
<path d="M686.7,167.3 L687.7,167.3 L688.7,167.3 L689.7,167.3 L690.7,167.3 L691.7,167.3 L692.7,167.3 L693.7,167.3"/>
<path d="M698.3,167.4 L699.3,167.4 L700.3,167.4 L701.3,167.4 L702.3,167.4 L703.3,167.4 L704.3,167.4 L705.3,167.4 L706.3,167.5 L707.3,167.5 L708.3,167.5 L709.3,167.5 L710.3,167.5 L711.3,167.5 L712.3,167.6 L713.3,167.6 L714.3,167.6 L715.3,167.6 L716.3,167.6 L717.3,167.7 L718.3,167.7 L719.3,167.7 L720.3,167.7 L721.3,167.8 L722.3,167.8 L723.3,167.8 L724.3,167.9 L725.3,167.9 L726.3,167.9 L727.3,168.0 L728.3,168.0 L729.3,168.0 L730.3,168.1 L731.3,168.1 L732.3,168.2 L733.3,168.2 L734.3,168.3 L735.3,168.3"/>
<path d="M742.0,168.7 L743.0,168.8 L744.0,168.8 L745.0,168.9 L746.0,169.0 L747.0,169.1 L748.0,169.2 L749.0,169.2 L750.0,169.3 L751.0,169.4 L752.0,169.5 L753.0,169.6 L754.0,169.7 L755.0,169.8 L756.0,170.0 L757.0,170.1 L758.0,170.2 L759.0,170.3 L760.0,170.5 L761.0,170.6 L762.0,170.7 L763.0,170.9 L764.0,171.1 L765.0,171.2 L766.0,171.4 L767.0,171.6 L768.0,171.8 L769.0,171.9 L770.0,172.1 L771.0,172.4 L772.0,172.6 L773.0,172.8 L774.0,173.0 L775.0,173.3 L776.0,173.5 L777.0,173.8 L778.0,174.0 L779.0,174.3 L780.0,174.6 L781.0,174.9 L782.0,175.2 L783.0,175.5 L784.0,175.9 L785.0,176.2 L786.0,176.6 L787.0,177.0 L788.0,177.3 L789.0,177.7 L790.0,178.2 L791.0,178.6 L792.0,179.0 L793.0,179.5 L794.0,180.0 L795.0,180.4 L796.0,180.9 L797.0,181.5 L798.0,182.0 L799.0,182.6 L800.0,183.1 L801.0,183.7 L802.0,184.3 L803.0,184.9 L804.0,185.6 L805.0,186.2 L806.0,186.9 L807.0,187.6 L808.0,188.3 L809.0,189.1 L810.0,189.8 L811.0,190.6 L812.0,191.4 L813.0,192.2 L814.0,193.1 L815.0,193.9 L816.0,194.8 L817.0,195.7 L818.0,196.6 L819.0,197.5 L820.0,198.5 L821.0,199.5 L822.0,200.5 L823.0,201.5 L824.0,202.5 L825.0,203.5 L826.0,204.6 L827.0,205.7 L828.0,206.8 L829.0,207.9 L830.0,209.0 L831.0,210.1 L832.0,211.3 L833.0,212.4 L834.0,213.6 L835.0,214.8 L836.0,216.0 L837.0,217.2 L838.0,218.4 L839.0,219.6 L840.0,220.8 L841.0,222.1 L842.0,223.3 L843.0,224.6 L844.0,225.8 L845.0,227.0 L846.0,228.3 L847.0,229.5 L848.0,230.8 L849.0,232.0 L850.0,233.3 L851.0,234.5 L852.0,235.7 L853.0,237.0 L854.0,238.2 L855.0,239.4 L856.0,240.6 L857.0,241.8 L858.0,243.0 L859.0,244.2 L860.0,245.4 L861.0,246.5 L862.0,247.7 L863.0,248.8 L864.0,249.9 L865.0,251.0 L866.0,252.1 L867.0,253.2 L868.0,254.3 L869.0,255.3 L870.0,256.3 L871.0,257.3 L872.0,258.3 L873.0,259.3 L874.0,260.3 L875.0,261.2 L876.0,262.2 L877.0,263.1 L878.0,264.0 L879.0,264.9 L880.0,265.7 L881.0,266.6 L882.0,267.4 L883.0,268.2 L884.0,269.0 L885.0,269.8 L886.0,270.5 L887.0,271.3 L888.0,272.0 L889.0,272.7 L890.0,273.4 L891.0,274.1 L892.0,274.7 L893.0,275.4 L894.0,276.0 L895.0,276.6 L896.0,277.2 L897.0,277.8 L898.0,278.4 L899.0,278.9 L900.0,279.4 L901.0,280.0 L902.0,280.5 L903.0,281.0 L904.0,281.5 L905.0,281.9 L906.0,282.4 L907.0,282.8 L908.0,283.3 L909.0,283.7 L910.0,284.1 L911.0,284.5 L912.0,284.9 L913.0,285.3 L914.0,285.6 L915.0,286.0 L916.0,286.3 L917.0,286.7 L918.0,287.0 L919.0,287.3 L920.0,287.6 L921.0,287.9 L922.0,288.2 L923.0,288.5 L924.0,288.8 L925.0,289.0 L926.0,289.3 L927.0,289.5 L928.0,289.8 L929.0,290.0 L930.0,290.3 L931.0,290.5 L932.0,290.7 L933.0,290.9 L934.0,291.1 L935.0,291.3"/>
<path d="M593.7,221.5 L594.7,221.5 L595.7,221.5 L596.7,221.5 L597.7,221.5 L598.7,221.5 L599.7,221.5 L600.7,221.5 L601.7,221.5 L602.7,221.5 L603.7,221.5 L604.7,221.5 L605.7,221.5 L606.7,221.5 L607.7,221.5 L608.7,221.5 L609.7,221.5 L610.7,221.5 L611.7,221.5 L612.7,221.5 L613.7,221.5 L614.7,221.5 L615.7,221.5 L616.7,221.5 L617.7,221.5 L618.7,221.5 L619.7,221.5 L620.7,221.5 L621.7,221.5 L622.7,221.5 L623.7,221.5 L624.7,221.5 L625.7,221.5 L626.7,221.5 L627.7,221.5 L628.7,221.5 L629.7,221.5 L630.7,221.5 L631.7,221.5 L632.7,221.5 L633.7,221.5 L634.7,221.5 L635.7,221.5 L636.7,221.5 L637.7,221.5 L638.7,221.5 L639.7,221.5 L640.7,221.5 L641.7,221.5 L642.7,221.5 L643.7,221.5 L644.7,221.5 L645.7,221.5 L646.7,221.5 L647.7,221.5 L648.7,221.5 L649.7,221.5 L650.7,221.5 L651.7,221.5 L652.7,221.5 L653.7,221.5 L654.7,221.5 L655.7,221.5 L656.7,221.5 L657.7,221.5 L658.7,221.5 L659.7,221.5 L660.7,221.5 L661.7,221.5 L662.7,221.5 L663.7,221.5 L664.7,221.5 L665.7,221.5 L666.7,221.5 L667.7,221.5 L668.7,221.5 L669.7,221.5 L670.7,221.5 L671.7,221.5 L672.7,221.5 L673.7,221.5 L674.7,221.5 L675.7,221.5 L676.7,221.5 L677.7,221.5 L678.7,221.5 L679.7,221.5 L680.7,221.5 L681.7,221.5 L682.7,221.5 L683.7,221.5 L684.7,221.5 L685.7,221.5 L686.7,221.5 L687.7,221.5 L688.7,221.5 L689.7,221.5 L690.7,221.5 L691.7,221.5 L692.7,221.5 L693.7,221.5 L694.7,221.5 L695.7,221.5 L696.7,221.5 L697.7,221.5 L698.7,221.5 L699.7,221.5 L700.7,221.5 L701.7,221.5 L702.7,221.5 L703.7,221.5 L704.7,221.5 L705.7,221.5 L706.7,221.5 L707.7,221.5 L708.7,221.5 L709.7,221.5 L710.7,221.5 L711.7,221.5 L712.7,221.5 L713.7,221.5 L714.7,221.5"/>
<path d="M717.0,221.5 L718.0,221.5 L719.0,221.5 L720.0,221.5 L721.0,221.5 L722.0,221.5 L723.0,221.5 L724.0,221.5 L725.0,221.5 L726.0,221.5 L727.0,221.5 L728.0,221.5"/>
<path d="M732.0,221.5 L733.0,221.5 L734.0,221.5 L735.0,221.5 L736.0,221.5 L737.0,221.5 L738.0,221.5 L739.0,221.5 L740.0,221.5 L741.0,221.5 L742.0,221.5 L743.0,221.5 L744.0,221.5 L745.0,221.5"/>
<path d="M748.0,221.5 L749.0,221.5 L750.0,221.5 L751.0,221.5 L752.0,221.5 L753.0,221.5 L754.0,221.5 L755.0,221.5 L756.0,221.5 L757.0,221.5 L758.0,221.5 L759.0,221.5 L760.0,221.5 L761.0,221.5"/>
<path d="M763.0,221.5 L764.0,221.5 L765.0,221.5 L766.0,221.5 L767.0,221.5 L768.0,221.5 L769.0,221.5 L770.0,221.5 L771.0,221.5 L772.0,221.5 L773.0,221.5 L774.0,221.5 L775.0,221.5 L776.0,221.5 L777.0,221.5 L778.0,221.5 L779.0,221.5 L780.0,221.5 L781.0,221.5 L782.0,221.5 L783.0,221.5 L784.0,221.5 L785.0,221.5 L786.0,221.5 L787.0,221.5 L788.0,221.5 L789.0,221.5 L790.0,221.5 L791.0,221.5 L792.0,221.5 L793.0,221.5 L794.0,221.5 L795.0,221.5 L796.0,221.5 L797.0,221.5 L798.0,221.5 L799.0,221.5 L800.0,221.5 L801.0,221.5 L802.0,221.5 L803.0,221.5 L804.0,221.5 L805.0,221.5 L806.0,221.5 L807.0,221.5 L808.0,221.5 L809.0,221.5 L810.0,221.5 L811.0,221.5 L812.0,221.5 L813.0,221.5 L814.0,221.5 L815.0,221.5 L816.0,221.5 L817.0,221.5 L818.0,221.5 L819.0,221.5 L820.0,221.5 L821.0,221.5 L822.0,221.5 L823.0,221.5 L824.0,221.5 L825.0,221.5 L826.0,221.5 L827.0,221.5 L828.0,221.5 L829.0,221.5 L830.0,221.5 L831.0,221.5 L832.0,221.5 L833.0,221.5 L834.0,221.6 L835.0,221.6 L836.0,221.6 L837.0,221.6 L838.0,221.6 L839.0,221.6 L840.0,221.6 L841.0,221.6 L842.0,221.6 L843.0,221.6 L844.0,221.6 L845.0,221.6 L846.0,221.7 L847.0,221.7 L848.0,221.7 L849.0,221.7 L850.0,221.7 L851.0,221.7 L852.0,221.8 L853.0,221.8 L854.0,221.8 L855.0,221.8 L856.0,221.9 L857.0,221.9 L858.0,222.0 L859.0,222.0 L860.0,222.0 L861.0,222.1 L862.0,222.1 L863.0,222.2 L864.0,222.3 L865.0,222.3 L866.0,222.4 L867.0,222.5 L868.0,222.6 L869.0,222.7 L870.0,222.8 L871.0,222.9 L872.0,223.1 L873.0,223.2 L874.0,223.4 L875.0,223.5 L876.0,223.7 L877.0,223.9 L878.0,224.1 L879.0,224.4 L880.0,224.6 L881.0,224.9 L882.0,225.2 L883.0,225.5 L884.0,225.9 L885.0,226.3 L886.0,226.7 L887.0,227.2 L888.0,227.6 L889.0,228.2 L890.0,228.7 L891.0,229.3 L892.0,230.0 L893.0,230.7 L894.0,231.4 L895.0,232.2 L896.0,233.1 L897.0,234.0 L898.0,234.9 L899.0,235.9 L900.0,237.0 L901.0,238.1 L902.0,239.2 L903.0,240.5 L904.0,241.7 L905.0,243.0 L906.0,244.4 L907.0,245.8 L908.0,247.3 L909.0,248.7 L910.0,250.2 L911.0,251.8 L912.0,253.3 L913.0,254.9 L914.0,256.5 L915.0,258.0 L916.0,259.6 L917.0,261.1 L918.0,262.7 L919.0,264.2 L920.0,265.6 L921.0,267.1 L922.0,268.4 L923.0,269.8 L924.0,271.1 L925.0,272.4 L926.0,273.6 L927.0,274.7 L928.0,275.8 L929.0,276.8 L930.0,277.8 L931.0,278.7 L932.0,279.6 L933.0,280.4 L934.0,281.2 L935.0,281.9 L936.0,282.6 L937.0,283.2 L938.0,283.8 L939.0,284.3 L940.0,284.8 L941.0,285.3 L942.0,285.7 L943.0,286.1 L944.0,286.5 L945.0,286.8 L946.0,287.1 L947.0,287.4 L948.0,287.7 L949.0,287.9 L950.0,288.1 L951.0,288.4 L952.0,288.5 L953.0,288.7 L954.0,288.9 L955.0,289.0 L956.0,289.1 L957.0,289.3 L958.0,289.4 L959.0,289.5 L960.0,289.6 L961.0,289.6 L962.0,289.7 L963.0,289.8 L964.0,289.9 L965.0,289.9 L966.0,290.0 L967.0,290.0 L968.0,290.1 L969.0,290.1 L970.0,290.1 L971.0,290.2 L972.0,290.2 L973.0,290.2 L974.0,290.3 L975.0,290.3 L976.0,290.3 L977.0,290.3 L978.0,290.3 L979.0,290.4 L980.0,290.4 L981.0,290.4 L982.0,290.4 L983.0,290.4 L984.0,290.4 L985.0,290.4"/>
<line x1="800" y1="290.3" x2="935" y2="290.3" stroke="#666"/>
</g>
<circle cx="595" cy="42.5" r="2.5" fill="#fff" stroke="#333" stroke-width="1"/>
<circle cx="653.4" cy="42.5" r="2.5" fill="#fff" stroke="#333" stroke-width="1"/>
<circle cx="692.1" cy="32.1" r="2.5" fill="#fff" stroke="#333" stroke-width="1"/>
<circle cx="709" cy="39.5" r="2.5" fill="#fff" stroke="#333" stroke-width="1"/>
<circle cx="749.3" cy="85.4" r="2.5" fill="#fff" stroke="#333" stroke-width="1"/>
<circle cx="766.7" cy="131.7" r="2.5" fill="#fff" stroke="#333" stroke-width="1"/>
<circle cx="806.2" cy="212" r="2.5" fill="#fff" stroke="#333" stroke-width="1"/>
<circle cx="823" cy="272.8" r="2.5" fill="#fff" stroke="#333" stroke-width="1"/>
<circle cx="878.4" cy="290" r="2.5" fill="#fff" stroke="#333" stroke-width="1"/>
<circle cx="919.9" cy="290" r="2.5" fill="#fff" stroke="#333" stroke-width="1"/>
<circle cx="860.6" cy="290" r="2.5" fill="#fff" stroke="#333" stroke-width="1"/>
<polygon points="593.4,93.0 590.1,98.5 596.6,98.5" fill="none" stroke="#111" stroke-width="1" stroke-linejoin="miter"/>
<polygon points="667.7,93.0 664.5,98.5 671.0,98.5" fill="none" stroke="#111" stroke-width="1" stroke-linejoin="miter"/>
<polygon points="707.7,108.7 704.5,114.2 711.0,114.2" fill="none" stroke="#111" stroke-width="1" stroke-linejoin="miter"/>
<polygon points="747.2,156.2 744.0,161.8 750.5,161.8" fill="none" stroke="#111" stroke-width="1" stroke-linejoin="miter"/>
<polygon points="764.2,176.9 761.0,182.4 767.5,182.4" fill="none" stroke="#111" stroke-width="1" stroke-linejoin="miter"/>
<polygon points="780.8,270.9 777.5,276.4 784.0,276.4" fill="none" stroke="#111" stroke-width="1" stroke-linejoin="miter"/>
<polygon points="803.5,287.2 800.2,292.8 806.8,292.8" fill="none" stroke="#111" stroke-width="1" stroke-linejoin="miter"/>
<polygon points="820.5,287.2 817.2,292.8 823.8,292.8" fill="none" stroke="#111" stroke-width="1" stroke-linejoin="miter"/>
<polygon points="593.7,163.0 590.2,169.0 597.2,169.0" fill="#111"/>
<polygon points="668.2,163.0 664.7,169.0 671.7,169.0" fill="#111"/>
<polygon points="690.5,163.0 687.0,169.0 694.0,169.0" fill="#111"/>
<polygon points="706.9,163.0 703.4,169.0 710.4,169.0" fill="#111"/>
<polygon points="746.5,163.0 743.0,169.0 750.0,169.0" fill="#111"/>
<polygon points="763.5,163.0 760.0,169.0 767.0,169.0" fill="#111"/>
<polygon points="780.6,166.0 777.1,172.0 784.1,172.0" fill="#111"/>
<polygon points="803.7,170.1 800.2,176.1 807.2,176.1" fill="#111"/>
<polygon points="820.5,191.8 817.0,197.8 824.0,197.8" fill="#111"/>
<polygon points="837.8,203.0 834.3,209.0 841.3,209.0" fill="#111"/>
<polygon points="859.7,242.6 856.2,248.6 863.2,248.6" fill="#111"/>
<polygon points="876.5,259.0 873.0,265.0 880.0,265.0" fill="#111"/>
<polygon points="837.6,287.0 834.1,293.0 841.1,293.0" fill="#111"/>
<polygon points="934.6,287.0 931.1,293.0 938.1,293.0" fill="#111"/>
<circle cx="595.8" cy="220.8" r="3" fill="#111"/>
<circle cx="652.8" cy="220.8" r="3" fill="#111"/>
<circle cx="692.6" cy="220.8" r="3" fill="#111"/>
<circle cx="709.6" cy="220.8" r="3" fill="#111"/>
<circle cx="749.2" cy="220.8" r="3" fill="#111"/>
<circle cx="766.6" cy="223" r="3" fill="#111"/>
<circle cx="805.7" cy="223.5" r="3" fill="#111"/>
<circle cx="822.8" cy="221.2" r="3" fill="#111"/>
<circle cx="862.3" cy="222.8" r="3" fill="#111"/>
<circle cx="878.8" cy="225" r="3" fill="#111"/>
<circle cx="897.2" cy="233.4" r="3" fill="#111"/>
<circle cx="919.2" cy="264" r="3" fill="#111"/>
<circle cx="930.4" cy="274.5" r="3" fill="#111"/>
<circle cx="935.8" cy="283.7" r="3" fill="#111"/>
<circle cx="993.2" cy="290.3" r="3" fill="#111"/>
<circle cx="754.6" cy="166.5" r="3" fill="#111"/>
</svg>
</body></html>
